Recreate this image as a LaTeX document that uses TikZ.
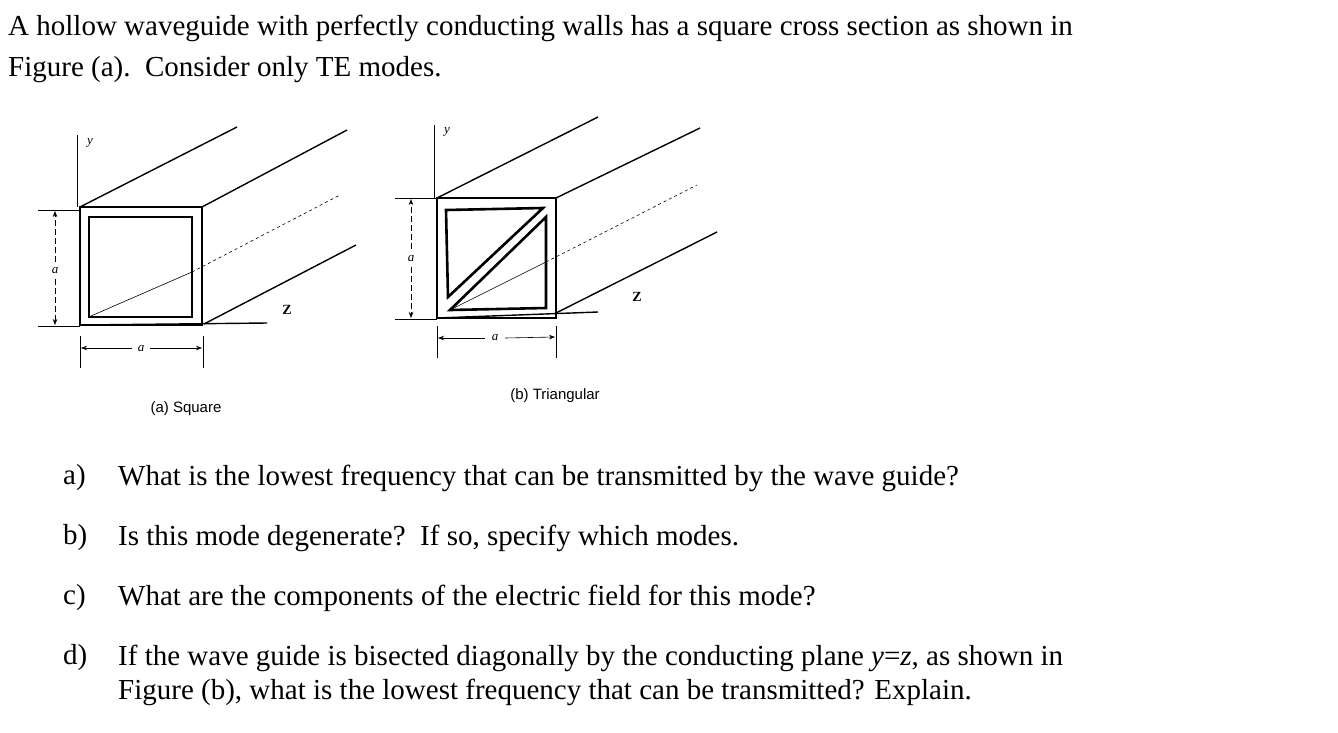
\documentclass[tikz,border=0pt]{standalone}
\usepackage{fontspec}
\setmainfont{Liberation Serif}
\newfontfamily\capfont{Liberation Sans}
\usetikzlibrary{arrows.meta}
\begin{document}
\begin{tikzpicture}[x=1pt,y=-1pt,
 wall/.style={line width=2.6pt},
 edge/.style={line width=1.4pt},
 thin/.style={line width=0.6pt},
 dashline/.style={line width=0.6pt,dashed},
 dimline/.style={line width=0.6pt,dash pattern=on 6pt off 3pt},
 dimarr/.style={line width=0.6pt,-{Stealth[length=6pt]}},
 body/.style={font=\fontsize{29}{34}\selectfont,anchor=west,inner sep=0},
 lab/.style={font=\fontsize{13}{14}\selectfont\itshape,inner sep=0},
 figcap/.style={font=\capfont\fontsize{15}{16}\selectfont,inner sep=0}]
\useasboundingbox (0,0) rectangle (1338,732);
\node[body] (t1) at (8,28) {A hollow waveguide with perfectly conducting walls has a square cross section as shown in};
\node[body] (t2) at (8,70) {Figure (a).\ \ Consider only TE modes.};
% ---- Figure (a)
\draw[thin] (77,135) -- (77,207);
\node[lab] (ya) at (90,143) {y};
\draw[edge] (80,207) -- (237,127);
\draw[edge] (202,207) -- (347,130);
\draw[edge] (204,324) -- (356,245);
\draw[edge] (80,325) -- (267,323);
\draw[wall] (80,207) rectangle (202,325);
\draw[wall] (89,217) rectangle (192,317);
\draw[thin] (91,316) -- (192,272);
\draw[dashline] (192,272) -- (340,195);
\node[font=\bfseries\fontsize{14}{14}\selectfont] (za) at (287,310) {Z};
\draw[thin] (38,210) -- (80,210);
\draw[thin] (38,326) -- (80,326);
\node[lab] (aa1) at (55,270) {a};
\draw[dimline,-{Stealth[length=6pt]}] (55,262) -- (55,211);
\draw[dimline,-{Stealth[length=6pt]}] (55,279) -- (55,325);
\draw[thin] (80,336) -- (80,368);
\draw[thin] (203,336) -- (203,368);
\node[lab] (aa2) at (141,348) {a};
\draw[dimarr] (132,348) -- (81,348);
\draw[dimarr] (150,348) -- (202,348);
\node[figcap] (ca) at (186,409) {(a) Square};
% ---- Figure (b)
\draw[thin] (434,125) -- (434,198);
\node[lab] (yb) at (447,132) {y};
\draw[edge] (437,198) -- (598,117);
\draw[edge] (556,198) -- (700,128);
\draw[edge] (556,313) -- (717,232);
\draw[edge] (437,318) -- (598,312);
\draw[wall] (437,198) rectangle (556,318);
\draw[wall,line join=miter] (446,210) -- (543,208) -- (448,297) -- cycle;
\draw[wall,line join=miter] (546,217) -- (546,308) -- (450,310) -- cycle;
\draw[thin] (452,309) -- (546,262);
\draw[dashline] (546,262) -- (697,185);
\node[font=\bfseries\fontsize{14}{14}\selectfont] (zb) at (637,297) {Z};
\draw[thin] (395,198) -- (437,198);
\draw[thin] (395,319) -- (437,319);
\node[lab] (ab1) at (411,258) {a};
\draw[dimline,-{Stealth[length=6pt]}] (411,249) -- (411,199);
\draw[dimline,-{Stealth[length=6pt]}] (411,267) -- (411,318);
\draw[thin] (437,326) -- (437,358);
\draw[thin] (556,326) -- (556,358);
\node[lab] (ab2) at (495,337) {a};
\draw[dimarr] (485,338) -- (438,338);
\draw[dimarr] (505,338) -- (555,337);
\node[figcap] (cb) at (555,396) {(b) Triangular};
% ---- Questions
\node[body] (qa) at (63,478) {a)};
\node[body] (qat) at (118,478) {What is the lowest frequency that can be transmitted by the wave guide?};
\node[body] (qb) at (63,538) {b)};
\node[body] (qbt) at (118,538) {Is this mode degenerate?\ \ If so, specify which modes.};
\node[body] (qc) at (63,598) {c)};
\node[body] (qct) at (118,598) {What are the components of the electric field for this mode?};
\node[body] (qd) at (63,658) {d)};
\node[body] (qdt) at (118,658) {If the wave guide is bisected diagonally by the conducting plane \textit{y}=\textit{z}, as shown in};
\node[body] (qdt2) at (118,692) {Figure (b), what is the lowest frequency that can be transmitted? Explain.};
\end{tikzpicture}
\end{document}
